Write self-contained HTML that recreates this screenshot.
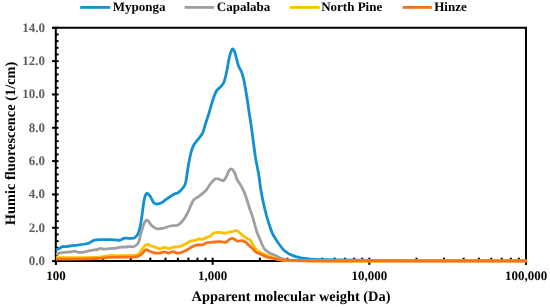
<!DOCTYPE html>
<html><head><meta charset="utf-8"><style>
html,body{margin:0;padding:0;background:#fff;}
svg{display:block;}
text{font-family:"Liberation Serif","Times New Roman",serif;font-weight:bold;text-rendering:geometricPrecision;}
</style></head><body>
<svg width="550" height="307" viewBox="0 0 550 307">
<rect width="550" height="307" fill="#fff"/>
<g font-size="13" fill="#000">
<line x1="80.2" y1="7.4" x2="110.2" y2="7.4" stroke="#1190d4" stroke-width="2.8"/>
<text transform="translate(112.8,10.6)">Myponga</text>
<line x1="184.6" y1="7.4" x2="214.1" y2="7.4" stroke="#9f9f9f" stroke-width="2.8"/>
<text transform="translate(216.8,10.6)">Capalaba</text>
<line x1="289.8" y1="7.4" x2="319.6" y2="7.4" stroke="#ffc000" stroke-width="2.8"/>
<text transform="translate(321.2,10.6)">North Pine</text>
<line x1="402.6" y1="7.4" x2="431.8" y2="7.4" stroke="#f87218" stroke-width="2.8"/>
<text transform="translate(434.2,10.6)">Hinze</text>
</g>
<g stroke="#000" stroke-width="2" fill="none">
<path d="M56,27.8 H526 V264.8"/>
<line x1="55.8" y1="27" x2="55.8" y2="264.8"/>
<line x1="52" y1="27.8" x2="56" y2="27.8"/>
<line x1="55" y1="261.1" x2="526" y2="261.1"/>
<line x1="52" y1="261.10" x2="58.6" y2="261.10"/><line x1="56" y1="254.43" x2="58.6" y2="254.43"/><line x1="56" y1="247.77" x2="58.6" y2="247.77"/><line x1="56" y1="241.10" x2="58.6" y2="241.10"/><line x1="56" y1="234.44" x2="58.6" y2="234.44"/><line x1="52" y1="227.77" x2="58.6" y2="227.77"/><line x1="56" y1="221.11" x2="58.6" y2="221.11"/><line x1="56" y1="214.44" x2="58.6" y2="214.44"/><line x1="56" y1="207.77" x2="58.6" y2="207.77"/><line x1="56" y1="201.11" x2="58.6" y2="201.11"/><line x1="52" y1="194.44" x2="58.6" y2="194.44"/><line x1="56" y1="187.78" x2="58.6" y2="187.78"/><line x1="56" y1="181.11" x2="58.6" y2="181.11"/><line x1="56" y1="174.45" x2="58.6" y2="174.45"/><line x1="56" y1="167.78" x2="58.6" y2="167.78"/><line x1="52" y1="161.11" x2="58.6" y2="161.11"/><line x1="56" y1="154.45" x2="58.6" y2="154.45"/><line x1="56" y1="147.78" x2="58.6" y2="147.78"/><line x1="56" y1="141.12" x2="58.6" y2="141.12"/><line x1="56" y1="134.45" x2="58.6" y2="134.45"/><line x1="52" y1="127.79" x2="58.6" y2="127.79"/><line x1="56" y1="121.12" x2="58.6" y2="121.12"/><line x1="56" y1="114.45" x2="58.6" y2="114.45"/><line x1="56" y1="107.79" x2="58.6" y2="107.79"/><line x1="56" y1="101.12" x2="58.6" y2="101.12"/><line x1="52" y1="94.46" x2="58.6" y2="94.46"/><line x1="56" y1="87.79" x2="58.6" y2="87.79"/><line x1="56" y1="81.13" x2="58.6" y2="81.13"/><line x1="56" y1="74.46" x2="58.6" y2="74.46"/><line x1="56" y1="67.79" x2="58.6" y2="67.79"/><line x1="52" y1="61.13" x2="58.6" y2="61.13"/><line x1="56" y1="54.46" x2="58.6" y2="54.46"/><line x1="56" y1="47.80" x2="58.6" y2="47.80"/><line x1="56" y1="41.13" x2="58.6" y2="41.13"/><line x1="56" y1="34.47" x2="58.6" y2="34.47"/><line x1="52" y1="27.80" x2="58.6" y2="27.80"/><line x1="103.16" y1="261" x2="103.16" y2="257.7"/><line x1="130.75" y1="261" x2="130.75" y2="257.7"/><line x1="150.32" y1="261" x2="150.32" y2="257.7"/><line x1="165.51" y1="261" x2="165.51" y2="257.7"/><line x1="177.91" y1="261" x2="177.91" y2="257.7"/><line x1="188.40" y1="261" x2="188.40" y2="257.7"/><line x1="197.48" y1="261" x2="197.48" y2="257.7"/><line x1="205.50" y1="261" x2="205.50" y2="257.7"/><line x1="259.83" y1="261" x2="259.83" y2="257.7"/><line x1="287.42" y1="261" x2="287.42" y2="257.7"/><line x1="306.99" y1="261" x2="306.99" y2="257.7"/><line x1="322.17" y1="261" x2="322.17" y2="257.7"/><line x1="334.58" y1="261" x2="334.58" y2="257.7"/><line x1="345.07" y1="261" x2="345.07" y2="257.7"/><line x1="354.15" y1="261" x2="354.15" y2="257.7"/><line x1="362.16" y1="261" x2="362.16" y2="257.7"/><line x1="416.49" y1="261" x2="416.49" y2="257.7"/><line x1="444.08" y1="261" x2="444.08" y2="257.7"/><line x1="463.66" y1="261" x2="463.66" y2="257.7"/><line x1="478.84" y1="261" x2="478.84" y2="257.7"/><line x1="491.24" y1="261" x2="491.24" y2="257.7"/><line x1="501.73" y1="261" x2="501.73" y2="257.7"/><line x1="510.82" y1="261" x2="510.82" y2="257.7"/><line x1="518.83" y1="261" x2="518.83" y2="257.7"/><line x1="56.00" y1="257.7" x2="56.00" y2="264.8"/><line x1="212.67" y1="257.7" x2="212.67" y2="264.8"/><line x1="369.33" y1="257.7" x2="369.33" y2="264.8"/><line x1="526.00" y1="257.7" x2="526.00" y2="264.8"/>
</g>
<g fill="none" stroke-width="2.8" stroke-linejoin="round" stroke-linecap="butt">
<path stroke="#1190d4" d="M56.0,249.8 C56.6,249.6 58.4,248.9 59.5,248.4 C60.6,247.9 61.6,246.9 62.5,246.6 C63.4,246.3 63.8,246.7 65.0,246.6 C66.2,246.5 67.9,246.2 70.0,246.0 C72.1,245.8 75.0,245.4 77.5,245.1 C80.0,244.8 83.0,244.4 85.0,244.0 C87.0,243.6 88.0,243.5 89.5,242.9 C91.0,242.3 91.8,240.9 93.7,240.3 C95.7,239.8 98.3,239.7 101.2,239.6 C104.1,239.5 108.5,239.6 111.0,239.7 C113.5,239.8 114.5,239.8 116.0,239.9 C117.5,240.0 119.0,240.4 120.3,240.2 C121.6,239.9 122.7,238.7 123.7,238.4 C124.7,238.1 124.8,238.2 126.5,238.2 C128.2,238.2 131.9,238.6 133.6,238.2 C135.3,237.8 136.0,236.9 136.8,235.8 C137.7,234.8 138.1,233.5 138.7,231.9 C139.3,230.3 139.9,228.1 140.3,226.0 C140.8,223.9 141.0,222.0 141.4,219.5 C141.8,217.0 142.2,214.0 142.6,210.9 C143.0,207.8 143.5,203.5 144.0,200.9 C144.5,198.3 144.9,196.5 145.5,195.2 C146.1,193.9 146.7,192.9 147.5,193.2 C148.3,193.5 149.4,195.2 150.5,196.8 C151.6,198.4 152.7,201.7 153.8,202.9 C154.9,204.1 155.7,204.1 157.1,204.0 C158.5,203.9 160.3,203.3 162.1,202.4 C163.9,201.5 165.6,199.7 167.7,198.3 C169.8,196.9 172.6,195.0 174.4,194.0 C176.2,193.0 177.2,193.6 178.7,192.4 C180.2,191.2 182.4,188.7 183.6,187.0 C184.8,185.3 185.0,185.6 185.8,182.0 C186.6,178.4 187.5,170.1 188.4,165.2 C189.3,160.3 190.1,155.9 191.0,152.5 C191.9,149.1 192.6,147.2 193.8,145.0 C195.0,142.8 196.7,141.2 198.2,139.2 C199.7,137.2 201.5,135.4 202.7,132.8 C203.9,130.2 204.4,127.1 205.5,123.8 C206.6,120.5 207.9,116.8 209.1,112.8 C210.3,108.8 211.6,103.7 212.8,100.1 C214.0,96.5 215.2,93.1 216.4,91.0 C217.6,88.9 218.9,88.7 220.1,87.3 C221.3,85.9 222.8,84.7 223.7,82.7 C224.6,80.8 225.2,78.1 225.8,75.6 C226.4,73.1 226.9,70.4 227.4,67.8 C227.9,65.2 228.2,62.6 228.8,60.0 C229.4,57.4 230.2,54.1 230.8,52.2 C231.4,50.4 231.9,49.0 232.5,48.9 C233.1,48.8 233.9,49.9 234.6,51.8 C235.3,53.6 236.2,57.6 236.9,60.0 C237.6,62.4 237.8,64.2 238.6,66.2 C239.4,68.2 240.7,69.7 241.5,71.7 C242.3,73.7 242.8,75.8 243.4,78.2 C244.0,80.6 244.4,82.7 245.0,86.0 C245.6,89.3 246.2,93.2 247.0,98.0 C247.8,102.8 248.7,109.7 249.5,115.0 C250.3,120.3 250.8,123.0 251.8,130.0 C252.8,137.0 254.2,149.5 255.4,157.0 C256.6,164.5 257.9,169.6 258.8,175.0 C259.7,180.4 260.0,184.7 260.8,189.6 C261.6,194.5 262.7,199.9 263.7,204.3 C264.7,208.7 265.6,212.4 266.6,216.0 C267.6,219.6 268.6,222.9 269.6,225.8 C270.6,228.7 271.5,231.4 272.5,233.6 C273.5,235.8 274.5,237.2 275.5,238.8 C276.5,240.5 277.3,241.7 278.6,243.5 C279.9,245.3 282.0,248.2 283.5,249.8 C285.0,251.4 286.1,251.9 287.4,252.8 C288.7,253.7 290.0,254.3 291.5,255.0 C293.0,255.7 294.8,256.3 296.5,256.8 C298.2,257.3 299.8,257.8 302.0,258.2 C304.2,258.6 307.0,259.0 310.0,259.2 C313.0,259.4 315.0,259.5 320.0,259.6 C325.0,259.7 331.2,259.9 340.0,260.0 C348.8,260.1 359.7,260.2 373.0,260.3 C386.3,260.4 394.5,260.7 420.0,260.8 C445.5,260.9 508.3,260.9 526.0,260.9"/>
<path stroke="#9f9f9f" d="M56.0,254.0 C57.1,253.8 60.2,253.0 62.5,252.7 C64.8,252.4 68.0,252.2 70.0,252.0 C72.0,251.8 73.0,251.1 74.5,251.2 C76.0,251.3 77.2,252.3 79.0,252.4 C80.8,252.5 83.0,252.2 85.0,251.8 C87.0,251.5 88.9,250.7 91.0,250.3 C93.1,249.9 95.9,249.8 97.5,249.5 C99.1,249.2 99.5,248.4 100.5,248.3 C101.5,248.2 101.5,249.1 103.5,249.1 C105.5,249.1 109.5,248.7 112.5,248.4 C115.5,248.1 118.6,247.5 121.5,247.2 C124.4,246.9 127.9,246.8 130.0,246.7 C132.1,246.6 132.9,246.8 134.0,246.5 C135.1,246.2 136.0,245.5 136.8,244.8 C137.6,244.1 138.1,243.6 138.7,242.1 C139.3,240.6 139.8,237.8 140.3,235.8 C140.8,233.8 141.3,232.1 141.8,230.3 C142.3,228.6 142.8,226.9 143.4,225.3 C144.0,223.8 144.8,221.8 145.5,221.0 C146.2,220.2 146.7,219.8 147.7,220.5 C148.7,221.2 150.0,224.1 151.6,225.5 C153.2,226.9 155.2,228.3 157.1,228.8 C158.9,229.3 160.5,228.8 162.7,228.3 C164.9,227.8 167.8,226.6 170.4,226.0 C173.0,225.4 176.0,226.0 178.2,224.9 C180.4,223.8 182.0,221.6 183.7,219.4 C185.4,217.2 186.9,214.2 188.2,211.6 C189.5,209.0 190.5,206.0 191.5,204.0 C192.5,202.0 192.6,200.9 194.0,199.5 C195.4,198.1 197.7,197.4 199.7,195.8 C201.7,194.2 204.3,192.3 206.2,190.1 C208.1,187.9 209.5,184.7 211.1,182.8 C212.7,180.9 214.4,179.2 215.9,178.7 C217.4,178.1 218.8,179.2 220.0,179.5 C221.2,179.8 222.2,181.2 223.3,180.7 C224.4,180.2 225.6,178.0 226.5,176.3 C227.4,174.6 228.1,171.8 229.0,170.6 C229.9,169.4 230.8,168.6 231.7,169.0 C232.6,169.4 233.8,171.2 234.7,173.0 C235.6,174.8 236.0,177.3 237.1,179.5 C238.2,181.7 240.0,183.9 241.2,186.1 C242.4,188.3 243.5,190.4 244.4,192.6 C245.3,194.8 245.9,196.7 246.7,199.0 C247.5,201.3 248.0,203.3 249.0,206.5 C250.0,209.7 251.6,213.8 252.9,218.0 C254.2,222.2 255.7,228.4 256.8,231.8 C257.9,235.2 258.8,236.4 259.7,238.7 C260.6,241.0 261.6,243.6 262.5,245.5 C263.4,247.4 264.1,248.8 265.4,250.1 C266.7,251.4 268.7,252.6 270.5,253.5 C272.3,254.4 274.3,255.0 276.2,255.8 C278.1,256.7 279.3,257.9 281.6,258.6 C283.9,259.3 286.9,259.9 290.0,260.2 C293.1,260.5 293.3,260.5 300.0,260.6 C306.7,260.7 313.3,260.8 330.0,260.8 C346.7,260.8 367.3,260.8 400.0,260.8 C432.7,260.8 505.0,260.8 526.0,260.8"/>
<path stroke="#ffc000" d="M56.0,257.6 C62.5,257.6 86.0,257.7 95.0,257.4 C104.0,257.1 104.2,256.0 110.0,255.7 C115.8,255.4 125.4,255.7 130.0,255.5 C134.6,255.3 135.6,255.5 137.5,254.7 C139.4,253.9 140.1,252.1 141.2,250.7 C142.3,249.3 143.1,247.2 144.2,246.2 C145.3,245.1 146.3,244.4 147.6,244.4 C148.8,244.4 150.3,245.7 151.7,246.2 C153.1,246.7 154.8,246.9 156.2,247.4 C157.6,247.9 158.8,248.9 160.0,248.9 C161.2,248.9 162.4,247.5 163.7,247.4 C164.9,247.3 166.4,247.9 167.5,248.1 C168.6,248.3 169.1,248.8 170.0,248.6 C170.9,248.4 171.2,247.4 172.8,247.1 C174.4,246.8 177.4,247.0 179.4,246.6 C181.4,246.2 183.1,245.3 184.9,244.4 C186.8,243.5 188.8,241.8 190.5,241.1 C192.2,240.4 193.5,240.9 194.9,240.5 C196.3,240.1 197.5,239.0 198.8,238.8 C200.1,238.6 201.3,239.7 202.7,239.4 C204.1,239.1 205.8,237.8 207.1,237.2 C208.4,236.6 209.3,236.8 210.4,236.1 C211.5,235.4 212.2,233.6 213.7,233.0 C215.2,232.4 217.5,232.3 219.3,232.3 C221.1,232.3 222.9,233.2 224.4,233.2 C225.9,233.2 227.1,232.8 228.5,232.5 C229.9,232.2 231.6,231.7 233.0,231.4 C234.4,231.1 235.6,230.3 236.7,230.6 C237.8,230.8 238.6,232.0 239.7,232.9 C240.8,233.8 242.2,235.3 243.5,236.2 C244.8,237.1 246.1,237.9 247.2,238.5 C248.3,239.1 249.2,239.2 250.1,240.0 C250.9,240.8 251.6,241.9 252.3,243.2 C253.1,244.5 253.7,246.3 254.6,247.6 C255.5,248.9 256.7,250.2 258.0,251.2 C259.3,252.2 260.8,252.8 262.5,253.6 C264.2,254.4 266.3,255.1 268.2,255.8 C270.1,256.5 272.0,257.3 274.0,258.0 C276.0,258.7 277.7,259.4 280.0,259.8 C282.3,260.2 284.7,260.4 288.0,260.6 C291.3,260.8 294.7,260.8 300.0,260.9 C305.3,261.0 303.3,261.0 320.0,261.0 C336.7,261.0 365.7,261.0 400.0,261.0 C434.3,261.0 505.0,261.0 526.0,261.0"/>
<path stroke="#f87218" d="M56.0,259.2 C62.5,259.1 86.0,258.9 95.0,258.6 C104.0,258.3 104.2,257.6 110.0,257.3 C115.8,257.1 125.4,257.2 130.0,257.1 C134.6,257.0 135.5,257.3 137.5,256.7 C139.5,256.1 140.6,254.9 142.0,253.7 C143.4,252.5 144.8,250.0 146.1,249.6 C147.3,249.2 148.1,250.5 149.5,251.1 C150.9,251.7 152.9,252.7 154.7,253.0 C156.4,253.3 158.4,253.2 160.0,253.0 C161.6,252.8 163.1,251.9 164.5,251.9 C165.9,251.9 166.9,253.2 168.3,253.2 C169.7,253.1 171.1,251.6 172.8,251.6 C174.5,251.6 176.3,253.3 178.3,253.2 C180.3,253.1 182.7,252.0 184.9,251.0 C187.1,250.0 189.6,248.1 191.6,247.1 C193.6,246.1 195.2,245.3 197.1,244.9 C198.9,244.5 201.0,245.1 202.7,244.7 C204.4,244.3 205.4,243.1 207.1,242.7 C208.8,242.3 210.6,242.4 212.6,242.2 C214.6,242.0 217.2,241.6 219.3,241.6 C221.5,241.6 223.7,242.6 225.5,242.2 C227.3,241.8 228.8,239.5 230.0,238.9 C231.2,238.3 231.8,238.1 233.0,238.5 C234.2,238.9 236.0,240.7 237.5,241.1 C239.0,241.5 240.6,240.5 242.0,240.7 C243.4,240.9 244.7,241.6 245.7,242.2 C246.7,242.8 247.3,243.8 248.0,244.5 C248.7,245.2 249.4,245.8 250.1,246.4 C250.8,247.1 251.4,247.5 252.3,248.4 C253.2,249.3 254.2,250.8 255.7,251.8 C257.2,252.8 259.5,253.7 261.4,254.6 C263.3,255.5 264.8,256.4 267.1,257.1 C269.4,257.8 272.6,258.3 275.1,258.8 C277.6,259.3 279.2,259.6 282.0,259.9 C284.8,260.2 288.2,260.3 292.0,260.4 C295.8,260.5 298.7,260.6 305.0,260.7 C311.3,260.8 314.2,260.8 330.0,260.8 C345.8,260.8 367.2,260.9 400.0,260.9 C432.8,260.9 505.8,260.9 527.0,260.9"/>
</g>
<g font-size="13" fill="#606060" text-anchor="end">
<text transform="translate(45.0,264.90)">0.0</text><text transform="translate(45.0,231.57)">2.0</text><text transform="translate(45.0,198.24)">4.0</text><text transform="translate(45.0,164.91)">6.0</text><text transform="translate(45.0,131.59)">8.0</text><text transform="translate(45.0,98.26)">10.0</text><text transform="translate(45.0,64.93)">12.0</text><text transform="translate(45.0,31.60)">14.0</text>
</g>
<g font-size="13" fill="#000" text-anchor="middle">
<text transform="translate(56.00,280.4)">100</text><text transform="translate(212.67,280.4)">1,000</text><text transform="translate(369.33,280.4)">10,000</text><text transform="translate(526.00,280.4)">100,000</text>
</g>
<text x="291" y="300.7" font-size="14.4" text-anchor="middle" fill="#000">Apparent molecular weight (Da)</text>
<text transform="translate(14.8,143.5) rotate(-90)" x="0" y="0" font-size="14.4" text-anchor="middle" fill="#000">Humic fluorescence (1/cm)</text>
</svg>
</body></html>
